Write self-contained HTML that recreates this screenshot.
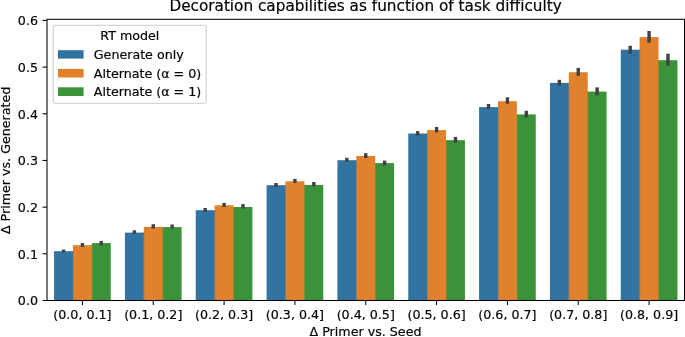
<!DOCTYPE html>
<html><head><meta charset="utf-8"><title>Decoration capabilities as function of task difficulty</title>
<style>
html,body{margin:0;padding:0;background:#fff;}
svg{display:block;}
text{font-family:"DejaVu Sans","Liberation Sans",sans-serif;font-variant-ligatures:none;font-feature-settings:"liga" 0;font-size:12.67px;fill:#000;stroke:#000;stroke-width:0.18px;}
</style></head>
<body>
<svg width="685" height="337" viewBox="0 0 685 337">
<rect width="685" height="337" fill="#fff"/>
<rect x="54.08" y="251.2" width="18.89" height="49.3" fill="#3274a1"/>
<rect x="72.97" y="245.2" width="18.89" height="55.3" fill="#e1812c"/>
<rect x="91.86" y="243.1" width="18.89" height="57.4" fill="#3a923a"/>
<rect x="124.92" y="232.6" width="18.89" height="67.9" fill="#3274a1"/>
<rect x="143.81" y="226.9" width="18.89" height="73.6" fill="#e1812c"/>
<rect x="162.69" y="227.1" width="18.89" height="73.4" fill="#3a923a"/>
<rect x="195.75" y="210.2" width="18.89" height="90.3" fill="#3274a1"/>
<rect x="214.64" y="205.3" width="18.89" height="95.2" fill="#e1812c"/>
<rect x="233.53" y="207" width="18.89" height="93.5" fill="#3a923a"/>
<rect x="266.58" y="185.2" width="18.89" height="115.3" fill="#3274a1"/>
<rect x="285.47" y="181.3" width="18.89" height="119.2" fill="#e1812c"/>
<rect x="304.36" y="184.9" width="18.89" height="115.6" fill="#3a923a"/>
<rect x="337.42" y="160.2" width="18.89" height="140.3" fill="#3274a1"/>
<rect x="356.31" y="156" width="18.89" height="144.5" fill="#e1812c"/>
<rect x="375.19" y="163.1" width="18.89" height="137.4" fill="#3a923a"/>
<rect x="408.25" y="133.5" width="18.89" height="167" fill="#3274a1"/>
<rect x="427.14" y="130.1" width="18.89" height="170.4" fill="#e1812c"/>
<rect x="446.03" y="140.2" width="18.89" height="160.3" fill="#3a923a"/>
<rect x="479.08" y="107.1" width="18.89" height="193.4" fill="#3274a1"/>
<rect x="497.97" y="101.2" width="18.89" height="199.3" fill="#e1812c"/>
<rect x="516.86" y="114.4" width="18.89" height="186.1" fill="#3a923a"/>
<rect x="549.92" y="82.9" width="18.89" height="217.6" fill="#3274a1"/>
<rect x="568.81" y="72.2" width="18.89" height="228.3" fill="#e1812c"/>
<rect x="587.69" y="91.6" width="18.89" height="208.9" fill="#3a923a"/>
<rect x="620.75" y="49.7" width="18.89" height="250.8" fill="#3274a1"/>
<rect x="639.64" y="37.1" width="18.89" height="263.4" fill="#e1812c"/>
<rect x="658.53" y="60.2" width="18.89" height="240.3" fill="#3a923a"/>
<rect x="72.47" y="251.2" width="1" height="49.3" fill="#3274a1"/>
<rect x="72.97" y="251.2" width="0.5" height="49.3" fill="#e1812c"/>
<rect x="91.36" y="245.2" width="1" height="55.3" fill="#e1812c"/>
<rect x="91.86" y="245.2" width="0.5" height="55.3" fill="#3a923a"/>
<rect x="143.31" y="232.6" width="1" height="67.9" fill="#3274a1"/>
<rect x="143.81" y="232.6" width="0.5" height="67.9" fill="#e1812c"/>
<rect x="162.19" y="227.1" width="1" height="73.4" fill="#e1812c"/>
<rect x="162.69" y="227.1" width="0.5" height="73.4" fill="#3a923a"/>
<rect x="214.14" y="210.2" width="1" height="90.3" fill="#3274a1"/>
<rect x="214.64" y="210.2" width="0.5" height="90.3" fill="#e1812c"/>
<rect x="233.03" y="207" width="1" height="93.5" fill="#e1812c"/>
<rect x="233.53" y="207" width="0.5" height="93.5" fill="#3a923a"/>
<rect x="284.97" y="185.2" width="1" height="115.3" fill="#3274a1"/>
<rect x="285.47" y="185.2" width="0.5" height="115.3" fill="#e1812c"/>
<rect x="303.86" y="184.9" width="1" height="115.6" fill="#e1812c"/>
<rect x="304.36" y="184.9" width="0.5" height="115.6" fill="#3a923a"/>
<rect x="355.81" y="160.2" width="1" height="140.3" fill="#3274a1"/>
<rect x="356.31" y="160.2" width="0.5" height="140.3" fill="#e1812c"/>
<rect x="374.69" y="163.1" width="1" height="137.4" fill="#e1812c"/>
<rect x="375.19" y="163.1" width="0.5" height="137.4" fill="#3a923a"/>
<rect x="426.64" y="133.5" width="1" height="167" fill="#3274a1"/>
<rect x="427.14" y="133.5" width="0.5" height="167" fill="#e1812c"/>
<rect x="445.53" y="140.2" width="1" height="160.3" fill="#e1812c"/>
<rect x="446.03" y="140.2" width="0.5" height="160.3" fill="#3a923a"/>
<rect x="497.47" y="107.1" width="1" height="193.4" fill="#3274a1"/>
<rect x="497.97" y="107.1" width="0.5" height="193.4" fill="#e1812c"/>
<rect x="516.36" y="114.4" width="1" height="186.1" fill="#e1812c"/>
<rect x="516.86" y="114.4" width="0.5" height="186.1" fill="#3a923a"/>
<rect x="568.31" y="82.9" width="1" height="217.6" fill="#3274a1"/>
<rect x="568.81" y="82.9" width="0.5" height="217.6" fill="#e1812c"/>
<rect x="587.19" y="91.6" width="1" height="208.9" fill="#e1812c"/>
<rect x="587.69" y="91.6" width="0.5" height="208.9" fill="#3a923a"/>
<rect x="639.14" y="49.7" width="1" height="250.8" fill="#3274a1"/>
<rect x="639.64" y="49.7" width="0.5" height="250.8" fill="#e1812c"/>
<rect x="658.03" y="60.2" width="1" height="240.3" fill="#e1812c"/>
<rect x="658.53" y="60.2" width="0.5" height="240.3" fill="#3a923a"/>
<rect x="61.82" y="249.6" width="3.42" height="2.7" fill="#424242"/>
<rect x="80.71" y="243.1" width="3.42" height="3.8" fill="#424242"/>
<rect x="99.6" y="240.9" width="3.42" height="4.6" fill="#424242"/>
<rect x="132.65" y="230.3" width="3.42" height="3.5" fill="#424242"/>
<rect x="151.54" y="224.2" width="3.42" height="4.3" fill="#424242"/>
<rect x="170.43" y="224.5" width="3.42" height="4" fill="#424242"/>
<rect x="203.48" y="208" width="3.42" height="3.8" fill="#424242"/>
<rect x="222.37" y="202.9" width="3.42" height="4.1" fill="#424242"/>
<rect x="241.26" y="204.1" width="3.42" height="4.4" fill="#424242"/>
<rect x="274.32" y="183" width="3.42" height="3.9" fill="#424242"/>
<rect x="293.21" y="178.9" width="3.42" height="4.1" fill="#424242"/>
<rect x="312.1" y="182" width="3.42" height="4.4" fill="#424242"/>
<rect x="345.15" y="157.8" width="3.42" height="4" fill="#424242"/>
<rect x="364.04" y="153.2" width="3.42" height="4.8" fill="#424242"/>
<rect x="382.93" y="160.6" width="3.42" height="4.8" fill="#424242"/>
<rect x="415.98" y="131.1" width="3.42" height="4.5" fill="#424242"/>
<rect x="434.87" y="126.9" width="3.42" height="5.6" fill="#424242"/>
<rect x="453.76" y="136.9" width="3.42" height="5.7" fill="#424242"/>
<rect x="486.82" y="104" width="3.42" height="4.9" fill="#424242"/>
<rect x="505.71" y="97.3" width="3.42" height="6.5" fill="#424242"/>
<rect x="524.6" y="110.8" width="3.42" height="6.7" fill="#424242"/>
<rect x="557.65" y="79.8" width="3.42" height="5.9" fill="#424242"/>
<rect x="576.54" y="67.9" width="3.42" height="7.9" fill="#424242"/>
<rect x="595.43" y="87.4" width="3.42" height="7.9" fill="#424242"/>
<rect x="628.48" y="45.8" width="3.42" height="7.9" fill="#424242"/>
<rect x="647.37" y="31" width="3.42" height="11.7" fill="#424242"/>
<rect x="666.26" y="53.7" width="3.42" height="12.1" fill="#424242"/>
<rect x="47" y="19.3" width="637.5" height="281.2" fill="none" stroke="#000" stroke-width="1.05" stroke-linecap="square"/>
<line x1="42.57" x2="47" y1="300.5" y2="300.5" stroke="#000" stroke-width="1.05"/>
<text x="38" y="305.35" text-anchor="end">0.0</text>
<line x1="42.57" x2="47" y1="253.82" y2="253.82" stroke="#000" stroke-width="1.05"/>
<text x="38" y="258.67" text-anchor="end">0.1</text>
<line x1="42.57" x2="47" y1="207.14" y2="207.14" stroke="#000" stroke-width="1.05"/>
<text x="38" y="211.99" text-anchor="end">0.2</text>
<line x1="42.57" x2="47" y1="160.46" y2="160.46" stroke="#000" stroke-width="1.05"/>
<text x="38" y="165.31" text-anchor="end">0.3</text>
<line x1="42.57" x2="47" y1="113.78" y2="113.78" stroke="#000" stroke-width="1.05"/>
<text x="38" y="118.63" text-anchor="end">0.4</text>
<line x1="42.57" x2="47" y1="67.1" y2="67.1" stroke="#000" stroke-width="1.05"/>
<text x="38" y="71.95" text-anchor="end">0.5</text>
<line x1="42.57" x2="47" y1="20.42" y2="20.42" stroke="#000" stroke-width="1.05"/>
<text x="38" y="25.27" text-anchor="end">0.6</text>
<line x1="82.42" x2="82.42" y1="300.5" y2="304.93" stroke="#000" stroke-width="1.05"/>
<text x="82.42" y="319.2" text-anchor="middle">(0.0, 0.1]</text>
<line x1="153.25" x2="153.25" y1="300.5" y2="304.93" stroke="#000" stroke-width="1.05"/>
<text x="153.25" y="319.2" text-anchor="middle">(0.1, 0.2]</text>
<line x1="224.08" x2="224.08" y1="300.5" y2="304.93" stroke="#000" stroke-width="1.05"/>
<text x="224.08" y="319.2" text-anchor="middle">(0.2, 0.3]</text>
<line x1="294.92" x2="294.92" y1="300.5" y2="304.93" stroke="#000" stroke-width="1.05"/>
<text x="294.92" y="319.2" text-anchor="middle">(0.3, 0.4]</text>
<line x1="365.75" x2="365.75" y1="300.5" y2="304.93" stroke="#000" stroke-width="1.05"/>
<text x="365.75" y="319.2" text-anchor="middle">(0.4, 0.5]</text>
<line x1="436.58" x2="436.58" y1="300.5" y2="304.93" stroke="#000" stroke-width="1.05"/>
<text x="436.58" y="319.2" text-anchor="middle">(0.5, 0.6]</text>
<line x1="507.42" x2="507.42" y1="300.5" y2="304.93" stroke="#000" stroke-width="1.05"/>
<text x="507.42" y="319.2" text-anchor="middle">(0.6, 0.7]</text>
<line x1="578.25" x2="578.25" y1="300.5" y2="304.93" stroke="#000" stroke-width="1.05"/>
<text x="578.25" y="319.2" text-anchor="middle">(0.7, 0.8]</text>
<line x1="649.08" x2="649.08" y1="300.5" y2="304.93" stroke="#000" stroke-width="1.05"/>
<text x="649.08" y="319.2" text-anchor="middle">(0.8, 0.9]</text>
<text x="365.5" y="336.3" text-anchor="middle">Δ Primer vs. Seed</text>
<text transform="translate(10.2,160.4) rotate(-90)" x="0" y="0" text-anchor="middle">Δ Primer vs. Generated</text>
<text x="365.6" y="11.35" text-anchor="middle" style="font-size:15.28px">Decoration capabilities as function of task difficulty</text>
<rect x="53.3" y="25.3" width="153" height="78" rx="2.5" fill="#fff" fill-opacity="0.8" stroke="#cccccc" stroke-opacity="0.8" stroke-width="1.27"/>
<text x="129.8" y="40" text-anchor="middle">RT model</text>
<rect x="58" y="50.2" width="25.6" height="8.4" fill="#3274a1"/>
<text x="93.8" y="58.6">Generate only</text>
<rect x="58" y="68.9" width="25.6" height="8.6" fill="#e1812c"/>
<text x="93.8" y="77.5">Alternate (α = 0)</text>
<rect x="58" y="87.3" width="25.6" height="8.7" fill="#3a923a"/>
<text x="93.8" y="96">Alternate (α = 1)</text>
</svg>
</body></html>
